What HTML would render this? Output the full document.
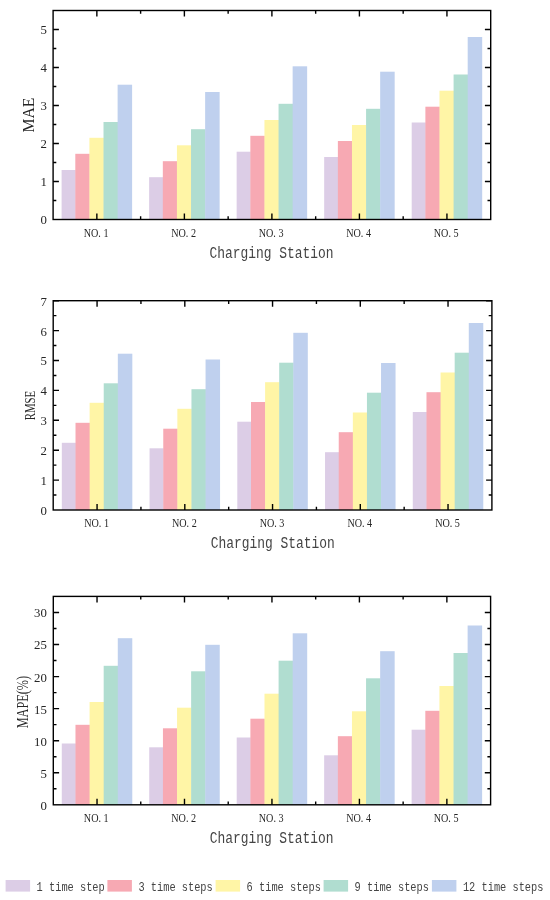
<!DOCTYPE html>
<html lang="en"><head><meta charset="utf-8"><title>Charging station forecast errors</title>
<style>html,body{margin:0;padding:0;background:#fff}body{width:550px;height:900px;overflow:hidden}svg{display:block}text{font-family:"Liberation Serif", serif;fill:#262626}.m{font-family:"Liberation Mono", monospace;fill:#444}</style></head><body>
<svg width="550" height="900" viewBox="0 0 550 900">
<rect width="550" height="900" fill="#fff"/>
<g>
<rect x="61.61" y="170" width="14.1" height="49.5" fill="#dccde6"/>
<rect x="75.31" y="153.8" width="14.5" height="65.7" fill="#f7a9b3"/>
<rect x="89.41" y="137.8" width="14.5" height="81.7" fill="#fff5a6"/>
<rect x="103.51" y="122" width="14.5" height="97.5" fill="#b0ddd0"/>
<rect x="117.61" y="84.7" width="14.5" height="134.8" fill="#bfd0ee"/>
<rect x="149.13" y="177.2" width="14.1" height="42.3" fill="#dccde6"/>
<rect x="162.83" y="161.2" width="14.5" height="58.3" fill="#f7a9b3"/>
<rect x="176.93" y="145.3" width="14.5" height="74.2" fill="#fff5a6"/>
<rect x="191.03" y="129.2" width="14.5" height="90.3" fill="#b0ddd0"/>
<rect x="205.13" y="92" width="14.5" height="127.5" fill="#bfd0ee"/>
<rect x="236.65" y="151.7" width="14.1" height="67.8" fill="#dccde6"/>
<rect x="250.35" y="135.8" width="14.5" height="83.7" fill="#f7a9b3"/>
<rect x="264.45" y="120" width="14.5" height="99.5" fill="#fff5a6"/>
<rect x="278.55" y="103.8" width="14.5" height="115.7" fill="#b0ddd0"/>
<rect x="292.65" y="66.3" width="14.5" height="153.2" fill="#bfd0ee"/>
<rect x="324.17" y="157" width="14.1" height="62.5" fill="#dccde6"/>
<rect x="337.87" y="141" width="14.5" height="78.5" fill="#f7a9b3"/>
<rect x="351.97" y="125" width="14.5" height="94.5" fill="#fff5a6"/>
<rect x="366.07" y="108.8" width="14.5" height="110.7" fill="#b0ddd0"/>
<rect x="380.17" y="71.7" width="14.5" height="147.8" fill="#bfd0ee"/>
<rect x="411.69" y="122.5" width="14.1" height="97" fill="#dccde6"/>
<rect x="425.39" y="106.7" width="14.5" height="112.8" fill="#f7a9b3"/>
<rect x="439.49" y="90.7" width="14.5" height="128.8" fill="#fff5a6"/>
<rect x="453.59" y="74.5" width="14.5" height="145" fill="#b0ddd0"/>
<rect x="467.69" y="37" width="14.5" height="182.5" fill="#bfd0ee"/>
<path d="M53.1 181.5h5.8M490.7 181.5h-5.8M53.1 143.5h5.8M490.7 143.5h-5.8M53.1 105.5h5.8M490.7 105.5h-5.8M53.1 67.5h5.8M490.7 67.5h-5.8M53.1 29.5h5.8M490.7 29.5h-5.8M53.1 200.5h3.2M490.7 200.5h-3.2M53.1 162.5h3.2M490.7 162.5h-3.2M53.1 124.5h3.2M490.7 124.5h-3.2M53.1 86.5h3.2M490.7 86.5h-3.2M53.1 48.5h3.2M490.7 48.5h-3.2M96.86 219.5v-6M96.86 10.5v6M184.38 219.5v-6M184.38 10.5v6M271.9 219.5v-6M271.9 10.5v6M359.42 219.5v-6M359.42 10.5v6M446.94 219.5v-6M446.94 10.5v6M140.62 219.5v-3.2M140.62 10.5v3.2M228.14 219.5v-3.2M228.14 10.5v3.2M315.66 219.5v-3.2M315.66 10.5v3.2M403.18 219.5v-3.2M403.18 10.5v3.2" stroke="#000" stroke-width="1.4" fill="none"/>
<rect x="53.1" y="10.5" width="437.6" height="209" fill="none" stroke="#000" stroke-width="1.4"/>
<text x="46.8" y="224.4" font-size="12.8" text-anchor="end">0</text>
<text x="46.8" y="186.4" font-size="12.8" text-anchor="end">1</text>
<text x="46.8" y="148.4" font-size="12.8" text-anchor="end">2</text>
<text x="46.8" y="110.4" font-size="12.8" text-anchor="end">3</text>
<text x="46.8" y="72.4" font-size="12.8" text-anchor="end">4</text>
<text x="46.8" y="34.4" font-size="12.8" text-anchor="end">5</text>
<text x="83.66" y="237.2" font-size="13" textLength="24.8" lengthAdjust="spacingAndGlyphs">NO. 1</text>
<text x="171.18" y="237.2" font-size="13" textLength="24.8" lengthAdjust="spacingAndGlyphs">NO. 2</text>
<text x="258.7" y="237.2" font-size="13" textLength="24.8" lengthAdjust="spacingAndGlyphs">NO. 3</text>
<text x="346.22" y="237.2" font-size="13" textLength="24.8" lengthAdjust="spacingAndGlyphs">NO. 4</text>
<text x="433.74" y="237.2" font-size="13" textLength="24.8" lengthAdjust="spacingAndGlyphs">NO. 5</text>
<text class="m" transform="translate(209.6 257.9) scale(0.8175 1)" font-size="15.8">Charging Station</text>
<text transform="translate(33.7 115) rotate(-90)" font-size="15.7" text-anchor="middle">MAE</text>
</g>
<g>
<rect x="61.82" y="442.8" width="14.1" height="67.2" fill="#dccde6"/>
<rect x="75.52" y="422.8" width="14.5" height="87.2" fill="#f7a9b3"/>
<rect x="89.62" y="402.8" width="14.5" height="107.2" fill="#fff5a6"/>
<rect x="103.72" y="383.3" width="14.5" height="126.7" fill="#b0ddd0"/>
<rect x="117.82" y="353.7" width="14.5" height="156.3" fill="#bfd0ee"/>
<rect x="149.56" y="448.3" width="14.1" height="61.7" fill="#dccde6"/>
<rect x="163.26" y="428.7" width="14.5" height="81.3" fill="#f7a9b3"/>
<rect x="177.36" y="408.8" width="14.5" height="101.2" fill="#fff5a6"/>
<rect x="191.46" y="389.2" width="14.5" height="120.8" fill="#b0ddd0"/>
<rect x="205.56" y="359.5" width="14.5" height="150.5" fill="#bfd0ee"/>
<rect x="237.3" y="421.7" width="14.1" height="88.3" fill="#dccde6"/>
<rect x="251" y="402" width="14.5" height="108" fill="#f7a9b3"/>
<rect x="265.1" y="382.2" width="14.5" height="127.8" fill="#fff5a6"/>
<rect x="279.2" y="362.7" width="14.5" height="147.3" fill="#b0ddd0"/>
<rect x="293.3" y="332.8" width="14.5" height="177.2" fill="#bfd0ee"/>
<rect x="325.04" y="452.2" width="14.1" height="57.8" fill="#dccde6"/>
<rect x="338.74" y="432.2" width="14.5" height="77.8" fill="#f7a9b3"/>
<rect x="352.84" y="412.5" width="14.5" height="97.5" fill="#fff5a6"/>
<rect x="366.94" y="392.7" width="14.5" height="117.3" fill="#b0ddd0"/>
<rect x="381.04" y="363" width="14.5" height="147" fill="#bfd0ee"/>
<rect x="412.78" y="412" width="14.1" height="98" fill="#dccde6"/>
<rect x="426.48" y="392.2" width="14.5" height="117.8" fill="#f7a9b3"/>
<rect x="440.58" y="372.5" width="14.5" height="137.5" fill="#fff5a6"/>
<rect x="454.68" y="352.7" width="14.5" height="157.3" fill="#b0ddd0"/>
<rect x="468.78" y="323" width="14.5" height="187" fill="#bfd0ee"/>
<path d="M53.2 480.1h5.8M491.9 480.1h-5.8M53.2 450.2h5.8M491.9 450.2h-5.8M53.2 420.3h5.8M491.9 420.3h-5.8M53.2 390.4h5.8M491.9 390.4h-5.8M53.2 360.5h5.8M491.9 360.5h-5.8M53.2 330.6h5.8M491.9 330.6h-5.8M53.2 300.7h5.8M491.9 300.7h-5.8M53.2 495.05h3.2M491.9 495.05h-3.2M53.2 465.15h3.2M491.9 465.15h-3.2M53.2 435.25h3.2M491.9 435.25h-3.2M53.2 405.35h3.2M491.9 405.35h-3.2M53.2 375.45h3.2M491.9 375.45h-3.2M53.2 345.55h3.2M491.9 345.55h-3.2M53.2 315.65h3.2M491.9 315.65h-3.2M97.07 510v-6M97.07 300.7v6M184.81 510v-6M184.81 300.7v6M272.55 510v-6M272.55 300.7v6M360.29 510v-6M360.29 300.7v6M448.03 510v-6M448.03 300.7v6M140.94 510v-3.2M140.94 300.7v3.2M228.68 510v-3.2M228.68 300.7v3.2M316.42 510v-3.2M316.42 300.7v3.2M404.16 510v-3.2M404.16 300.7v3.2" stroke="#000" stroke-width="1.4" fill="none"/>
<rect x="53.2" y="300.7" width="438.7" height="209.3" fill="none" stroke="#000" stroke-width="1.4"/>
<text x="46.8" y="514.9" font-size="12.8" text-anchor="end">0</text>
<text x="46.8" y="485" font-size="12.8" text-anchor="end">1</text>
<text x="46.8" y="455.1" font-size="12.8" text-anchor="end">2</text>
<text x="46.8" y="425.2" font-size="12.8" text-anchor="end">3</text>
<text x="46.8" y="395.3" font-size="12.8" text-anchor="end">4</text>
<text x="46.8" y="365.4" font-size="12.8" text-anchor="end">5</text>
<text x="46.8" y="335.5" font-size="12.8" text-anchor="end">6</text>
<text x="46.8" y="305.6" font-size="12.8" text-anchor="end">7</text>
<text x="84.17" y="527.3" font-size="13" textLength="24.8" lengthAdjust="spacingAndGlyphs">NO. 1</text>
<text x="171.91" y="527.3" font-size="13" textLength="24.8" lengthAdjust="spacingAndGlyphs">NO. 2</text>
<text x="259.65" y="527.3" font-size="13" textLength="24.8" lengthAdjust="spacingAndGlyphs">NO. 3</text>
<text x="347.39" y="527.3" font-size="13" textLength="24.8" lengthAdjust="spacingAndGlyphs">NO. 4</text>
<text x="435.13" y="527.3" font-size="13" textLength="24.8" lengthAdjust="spacingAndGlyphs">NO. 5</text>
<text class="m" transform="translate(210.75 548) scale(0.8175 1)" font-size="15.8">Charging Station</text>
<text transform="translate(34.9 405.55) rotate(-90)" font-size="15.6" text-anchor="middle" textLength="29.5" lengthAdjust="spacingAndGlyphs">RMSE</text>
</g>
<g>
<rect x="61.78" y="743.5" width="14.1" height="61.3" fill="#dccde6"/>
<rect x="75.48" y="724.8" width="14.5" height="80" fill="#f7a9b3"/>
<rect x="89.58" y="702" width="14.5" height="102.8" fill="#fff5a6"/>
<rect x="103.68" y="665.8" width="14.5" height="139" fill="#b0ddd0"/>
<rect x="117.78" y="638.2" width="14.5" height="166.6" fill="#bfd0ee"/>
<rect x="149.24" y="747.3" width="14.1" height="57.5" fill="#dccde6"/>
<rect x="162.94" y="728.3" width="14.5" height="76.5" fill="#f7a9b3"/>
<rect x="177.04" y="707.7" width="14.5" height="97.1" fill="#fff5a6"/>
<rect x="191.14" y="671.3" width="14.5" height="133.5" fill="#b0ddd0"/>
<rect x="205.24" y="644.8" width="14.5" height="160" fill="#bfd0ee"/>
<rect x="236.7" y="737.5" width="14.1" height="67.3" fill="#dccde6"/>
<rect x="250.4" y="718.7" width="14.5" height="86.1" fill="#f7a9b3"/>
<rect x="264.5" y="693.7" width="14.5" height="111.1" fill="#fff5a6"/>
<rect x="278.6" y="660.7" width="14.5" height="144.1" fill="#b0ddd0"/>
<rect x="292.7" y="633.3" width="14.5" height="171.5" fill="#bfd0ee"/>
<rect x="324.16" y="755.3" width="14.1" height="49.5" fill="#dccde6"/>
<rect x="337.86" y="736.2" width="14.5" height="68.6" fill="#f7a9b3"/>
<rect x="351.96" y="711.3" width="14.5" height="93.5" fill="#fff5a6"/>
<rect x="366.06" y="678.3" width="14.5" height="126.5" fill="#b0ddd0"/>
<rect x="380.16" y="651.2" width="14.5" height="153.6" fill="#bfd0ee"/>
<rect x="411.62" y="729.7" width="14.1" height="75.1" fill="#dccde6"/>
<rect x="425.32" y="710.8" width="14.5" height="94" fill="#f7a9b3"/>
<rect x="439.42" y="686" width="14.5" height="118.8" fill="#fff5a6"/>
<rect x="453.52" y="653" width="14.5" height="151.8" fill="#b0ddd0"/>
<rect x="467.62" y="625.5" width="14.5" height="179.3" fill="#bfd0ee"/>
<path d="M53.3 772.75h5.8M490.6 772.75h-5.8M53.3 740.7h5.8M490.6 740.7h-5.8M53.3 708.65h5.8M490.6 708.65h-5.8M53.3 676.6h5.8M490.6 676.6h-5.8M53.3 644.55h5.8M490.6 644.55h-5.8M53.3 612.5h5.8M490.6 612.5h-5.8M53.3 788.77h3.2M490.6 788.77h-3.2M53.3 756.72h3.2M490.6 756.72h-3.2M53.3 724.67h3.2M490.6 724.67h-3.2M53.3 692.62h3.2M490.6 692.62h-3.2M53.3 660.57h3.2M490.6 660.57h-3.2M53.3 628.52h3.2M490.6 628.52h-3.2M97.03 804.8v-6M97.03 596.4v6M184.49 804.8v-6M184.49 596.4v6M271.95 804.8v-6M271.95 596.4v6M359.41 804.8v-6M359.41 596.4v6M446.87 804.8v-6M446.87 596.4v6M140.76 804.8v-3.2M140.76 596.4v3.2M228.22 804.8v-3.2M228.22 596.4v3.2M315.68 804.8v-3.2M315.68 596.4v3.2M403.14 804.8v-3.2M403.14 596.4v3.2" stroke="#000" stroke-width="1.4" fill="none"/>
<rect x="53.3" y="596.4" width="437.3" height="208.4" fill="none" stroke="#000" stroke-width="1.4"/>
<text x="46.8" y="809.7" font-size="12.8" text-anchor="end">0</text>
<text x="46.8" y="777.65" font-size="12.8" text-anchor="end">5</text>
<text x="46.8" y="745.6" font-size="12.8" text-anchor="end">10</text>
<text x="46.8" y="713.55" font-size="12.8" text-anchor="end">15</text>
<text x="46.8" y="681.5" font-size="12.8" text-anchor="end">20</text>
<text x="46.8" y="649.45" font-size="12.8" text-anchor="end">25</text>
<text x="46.8" y="617.4" font-size="12.8" text-anchor="end">30</text>
<text x="83.83" y="822.4" font-size="13" textLength="24.8" lengthAdjust="spacingAndGlyphs">NO. 1</text>
<text x="171.29" y="822.4" font-size="13" textLength="24.8" lengthAdjust="spacingAndGlyphs">NO. 2</text>
<text x="258.75" y="822.4" font-size="13" textLength="24.8" lengthAdjust="spacingAndGlyphs">NO. 3</text>
<text x="346.21" y="822.4" font-size="13" textLength="24.8" lengthAdjust="spacingAndGlyphs">NO. 4</text>
<text x="433.67" y="822.4" font-size="13" textLength="24.8" lengthAdjust="spacingAndGlyphs">NO. 5</text>
<text class="m" transform="translate(209.65 843.2) scale(0.8175 1)" font-size="15.8">Charging Station</text>
<text transform="translate(28.2 702.1) rotate(-90)" font-size="15.8" text-anchor="middle" textLength="52.5" lengthAdjust="spacingAndGlyphs">MAPE(%)</text>
</g>
<g>
<rect x="5.6" y="880" width="24.5" height="11.6" fill="#dccde6"/>
<text class="m" transform="translate(36.6 890.6) scale(0.82 1)" font-size="12.6">1 time step</text>
<rect x="107.4" y="880" width="24.5" height="11.6" fill="#f7a9b3"/>
<text class="m" transform="translate(138.4 890.6) scale(0.82 1)" font-size="12.6">3 time steps</text>
<rect x="215.6" y="880" width="24.5" height="11.6" fill="#fff5a6"/>
<text class="m" transform="translate(246.6 890.6) scale(0.82 1)" font-size="12.6">6 time steps</text>
<rect x="323.6" y="880" width="24.5" height="11.6" fill="#b0ddd0"/>
<text class="m" transform="translate(354.6 890.6) scale(0.82 1)" font-size="12.6">9 time steps</text>
<rect x="431.9" y="880" width="24.5" height="11.6" fill="#bfd0ee"/>
<text class="m" transform="translate(462.9 890.6) scale(0.82 1)" font-size="12.6">12 time steps</text>
</g>
</svg></body></html>
